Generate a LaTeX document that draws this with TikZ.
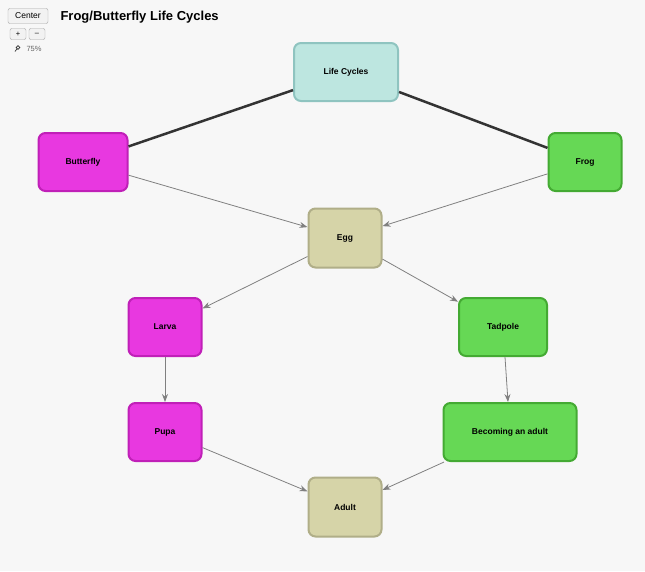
\documentclass[tikz,border=0pt]{standalone}
\usepackage{fontspec}
\setmainfont{Liberation Sans}
\usetikzlibrary{arrows.meta}
\definecolor{bg}{HTML}{F7F7F7}
\definecolor{tealf}{HTML}{BDE6E0}\definecolor{tealb}{HTML}{8FC4C0}
\definecolor{magf}{HTML}{E838E0}\definecolor{magb}{HTML}{C020B8}
\definecolor{grnf}{HTML}{66D855}\definecolor{grnb}{HTML}{44AA33}
\definecolor{khf}{HTML}{D6D4A8}\definecolor{khb}{HTML}{B0AE88}
\tikzset{
 box/.style={rounded corners=7pt,line width=2pt,font=\bfseries\fontsize{8.5}{10}\selectfont,text=black,align=center,inner sep=0pt},
 tl/.style={box,fill=tealf,draw=tealb},
 mg/.style={box,fill=magf,draw=magb},
 gr/.style={box,fill=grnf,draw=grnb},
 kh/.style={box,fill=khf,draw=khb},
 arr/.style={draw=gray,line width=0.8pt,-{Stealth[length=8pt,width=6pt]}},
 thick line/.style={draw=black!80,line width=2.5pt},
 btn/.style={draw=gray!70,fill=gray!10,rounded corners=2pt,font=\fontsize{7.5}{8}\selectfont,inner sep=1.5pt}
}
\begin{document}
\begin{tikzpicture}[x=1pt,y=-1pt]
\useasboundingbox[fill=bg] (0,0) rectangle (645,571);
\node[btn,minimum width=40pt,minimum height=15pt,font=\fontsize{8.5}{9}\selectfont] (center) at (28,16) {Center};
\node[btn,minimum width=16pt,minimum height=11pt] (plus) at (18,34) {+};
\node[btn,minimum width=16pt,minimum height=11pt] (minus) at (37,34) {--};
\node[font=\fontsize{7.5}{8}\selectfont,text=gray!80!black,anchor=west] (zoom) at (23,49) {75\%};
\draw[gray!40!black,line width=0.7pt] (18,47.5) circle (1.8pt) (16.8,49) -- (15,51.5);
\node[anchor=west,font=\bfseries\fontsize{13}{15}\selectfont] (title) at (57,17) {Frog/Butterfly Life Cycles};
\node[tl,minimum width=104pt,minimum height=58pt] (lc) at (346,72) {Life Cycles};
\node[mg,minimum width=89pt,minimum height=58pt] (bf) at (83,162) {Butterfly};
\node[gr,minimum width=73pt,minimum height=58pt] (fr) at (585,162) {Frog};
\node[kh,minimum width=73pt,minimum height=59pt] (egg) at (345,238) {Egg};
\node[mg,minimum width=73pt,minimum height=58pt] (la) at (165,327) {Larva};
\node[gr,minimum width=88pt,minimum height=58pt] (tp) at (503,327) {Tadpole};
\node[mg,minimum width=73pt,minimum height=58pt] (pu) at (165,432) {Pupa};
\node[gr,minimum width=133pt,minimum height=58pt] (ba) at (510,432) {Becoming an adult};
\node[kh,minimum width=73pt,minimum height=59pt] (ad) at (345,507) {Adult};
\draw[thick line] (lc) -- (bf);
\draw[thick line] (lc) -- (fr);
\draw[arr] (bf) -- (egg);
\draw[arr] (fr) -- (egg);
\draw[arr] (egg) -- (la);
\draw[arr] (egg) -- (tp);
\draw[arr] (la) -- (pu);
\draw[arr] (tp) -- (ba);
\draw[arr] (pu) -- (ad);
\draw[arr] (ba) -- (ad);
\end{tikzpicture}
\end{document}
